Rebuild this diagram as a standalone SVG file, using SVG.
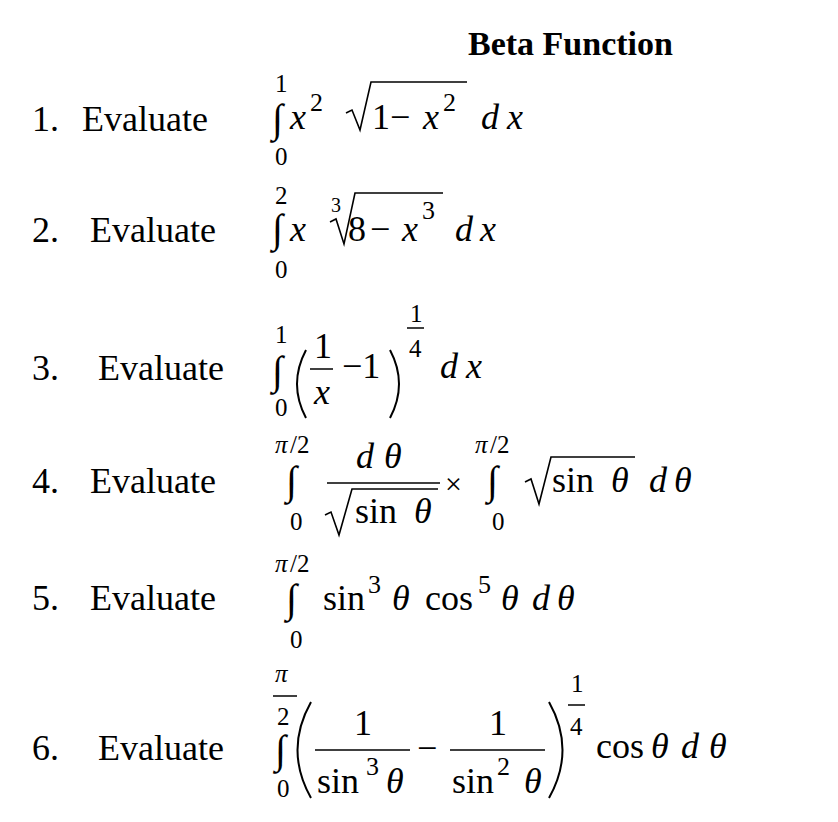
<svg xmlns="http://www.w3.org/2000/svg" width="838" height="822" viewBox="0 0 838 822">
<style>
text{font-family:"Liberation Serif","Times New Roman",serif;fill:#000}
.m{font-size:36px}
.i{font-size:36px;font-style:italic}
.s{font-size:26px}
.l{font-size:25px}
.li{font-size:25px;font-style:italic}
.int{font-size:40px}
.t{font-size:34px;font-weight:bold}
.r{fill:none;stroke:#000;stroke-width:1.6}
.b{stroke:#000;stroke-width:1.5}
</style>
<rect width="838" height="822" fill="#fff"/>
<text class="t" x="468" y="55">Beta Function</text>
<g id="labels" class="m">
<text x="32" y="131">1.</text><text x="82" y="131">Evaluate</text>
<text x="32" y="242">2.</text><text x="90" y="242">Evaluate</text>
<text x="32" y="380">3.</text><text x="98" y="380">Evaluate</text>
<text x="32" y="493">4.</text><text x="90" y="493">Evaluate</text>
<text x="32" y="610">5.</text><text x="90" y="610">Evaluate</text>
<text x="32" y="760">6.</text><text x="98" y="760">Evaluate</text>
</g>
<g id="q1">
<text class="l" x="275" y="92">1</text>
<text class="int" x="272" y="132">∫</text>
<text class="l" x="275" y="165">0</text>
<text class="i" x="290" y="129">x</text><text class="s" x="310" y="111">2</text>
<path class="r" d="M346 113 L352 110 L360 130 L371 82 L467 82"/>
<text class="m" x="372" y="129">1</text><text class="m" x="390" y="129">−</text>
<text class="i" x="423" y="129">x</text><text class="s" x="443" y="111">2</text>
<text class="i" x="481" y="129">d</text><text class="i" x="507" y="129">x</text>
</g>
<g id="q2">
<text class="l" x="275" y="204">2</text>
<text class="int" x="272" y="242">∫</text>
<text class="l" x="275" y="278">0</text>
<text class="i" x="290" y="241">x</text>
<text class="l" x="331" y="212" style="font-size:20px">3</text>
<path class="r" d="M330 222 L336 219 L344 244 L355 193 L443 193"/>
<text class="m" x="348" y="241">8</text><text class="m" x="370" y="241">−</text>
<text class="i" x="402" y="241">x</text><text class="s" x="422" y="219">3</text>
<text class="i" x="455" y="241">d</text><text class="i" x="480" y="241">x</text>
</g>
<g id="q3">
<text class="l" x="275" y="343">1</text>
<text class="int" x="272" y="384">∫</text>
<text class="l" x="275" y="416">0</text>
<path d="M306 350 Q288 384 306 418" fill="none" stroke="#000" stroke-width="2"/>
<text class="m" x="314" y="358">1</text>
<line class="b" x1="310" y1="369" x2="333" y2="369"/>
<text class="i" x="314" y="404">x</text>
<text class="m" x="342" y="378">−1</text>
<path d="M390 350 Q408 384 390 418" fill="none" stroke="#000" stroke-width="2"/>
<text class="l" x="410" y="322">1</text>
<line class="b" x1="407" y1="328" x2="424" y2="328"/>
<text class="l" x="409" y="357">4</text>
<text class="i" x="440" y="378">d</text><text class="i" x="466" y="378">x</text>
</g>
<g id="q4">
<text class="li" x="275" y="453">π</text><text class="l" x="290" y="453">/2</text>
<text class="int" x="286" y="494">∫</text>
<text class="l" x="290" y="530">0</text>
<text class="i" x="356" y="468">d</text><text class="i" x="384" y="468">θ</text>
<line class="b" x1="327" y1="483" x2="440" y2="483"/>
<path class="r" d="M325 515 L331 512 L339 535 L352 489 L438 489"/>
<text class="m" x="355" y="523">sin</text><text class="i" x="414" y="523">θ</text>
<text class="m" x="445" y="494" style="font-size:30px">×</text>
<text class="li" x="475" y="453">π</text><text class="l" x="490" y="453">/2</text>
<text class="int" x="487" y="494">∫</text>
<text class="l" x="492" y="530">0</text>
<path class="r" d="M525 482 L531 479 L539 504 L551 457 L635 457"/>
<text class="m" x="552" y="492">sin</text><text class="i" x="611" y="492">θ</text>
<text class="i" x="649" y="492">d</text><text class="i" x="674" y="492">θ</text>
</g>
<g id="q5">
<text class="li" x="275" y="572">π</text><text class="l" x="290" y="572">/2</text>
<text class="int" x="286" y="612">∫</text>
<text class="l" x="290" y="648">0</text>
<text class="m" x="323" y="610">sin</text><text class="s" x="368" y="593">3</text>
<text class="i" x="392" y="610">θ</text>
<text class="m" x="425" y="610">cos</text><text class="s" x="478" y="593">5</text>
<text class="i" x="501" y="610">θ</text>
<text class="i" x="532" y="610">d</text><text class="i" x="557" y="610">θ</text>
</g>
<g id="q6">
<text class="li" x="275" y="682">π</text>
<line class="b" x1="273" y1="696" x2="297" y2="696"/>
<text class="l" x="277" y="725">2</text>
<text class="int" x="275" y="763">∫</text>
<text class="l" x="277" y="797">0</text>
<path d="M311 702 Q284 750 311 798" fill="none" stroke="#000" stroke-width="2"/>
<text class="m" x="354" y="735">1</text>
<line class="b" x1="315" y1="750" x2="410" y2="750"/>
<text class="m" x="317" y="793">sin</text><text class="s" x="366" y="775">3</text><text class="i" x="386" y="793">θ</text>
<text class="m" x="417" y="760">−</text>
<text class="m" x="489" y="735">1</text>
<line class="b" x1="450" y1="750" x2="545" y2="750"/>
<text class="m" x="452" y="793">sin</text><text class="s" x="497" y="775">2</text><text class="i" x="524" y="793">θ</text>
<path d="M549 702 Q576 750 549 798" fill="none" stroke="#000" stroke-width="2"/>
<text class="l" x="571" y="692">1</text>
<line class="b" x1="568" y1="705" x2="585" y2="705"/>
<text class="l" x="570" y="735">4</text>
<text class="m" x="596" y="758">cos</text><text class="i" x="651" y="758">θ</text>
<text class="i" x="681" y="758">d</text><text class="i" x="709" y="758">θ</text>
</g>
</svg>
